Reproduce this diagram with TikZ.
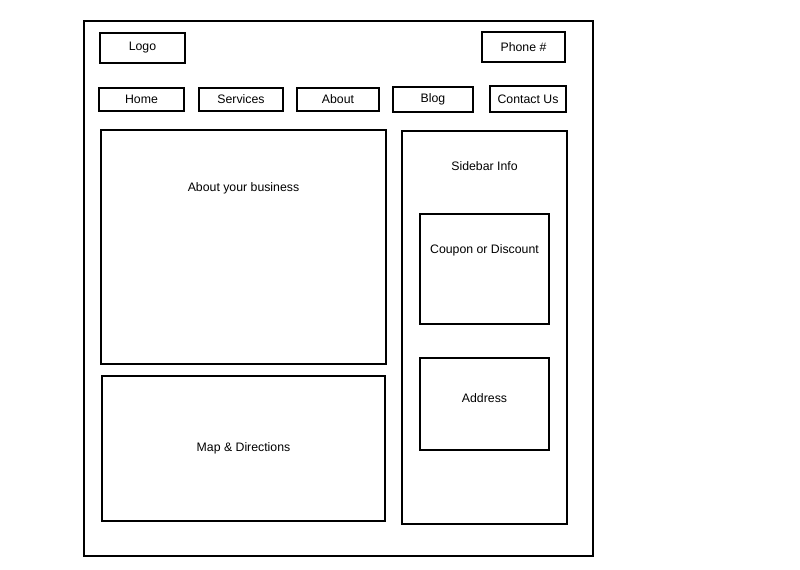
\documentclass[tikz,border=0pt]{standalone}
\usepackage{fontspec}
\setmainfont{Liberation Sans}
\usetikzlibrary{positioning}

\begin{document}
\begin{tikzpicture}
    [
        x=0.02cm, y=-0.02cm, inner sep=0pt,
        box/.style={rectangle, draw=black, line width=1.1pt, fill=none},
        label_text/.style={font=\fontsize{7}{8}\selectfont},
    ]
        \useasboundingbox (0,0) rectangle (800,569) ;
        % page frame
        \node[box, minimum width=10.18cm, minimum height=10.70cm] (page) at (338.5,288.5) {} ;
        % header
        \node[box, label_text, minimum width=1.70cm, minimum height=0.60cm] (logo) at (142.5,48) {Logo} ;
        \node[box, label_text, minimum width=1.66cm, minimum height=0.60cm] (phone) at (523.5,47) {Phone \#} ;
        % menu
        \node[box, label_text, minimum width=1.70cm, minimum height=0.46cm] (home) at (141.5,99.5) {Home} ;
        \node[box, label_text, minimum width=1.68cm, minimum height=0.46cm] (services) at (241,99.5) {Services} ;
        \node[box, label_text, minimum width=1.64cm, minimum height=0.46cm] (about) at (338,99.5) {About} ;
        \node[box, label_text, minimum width=1.60cm, minimum height=0.50cm] (blog) at (433,99.5) {Blog} ;
        \node[box, label_text, minimum width=1.52cm, minimum height=0.52cm] (contact) at (528,99) {Contact Us} ;
        % content
        \node[box, minimum width=5.70cm, minimum height=4.68cm] (business) at (243.5,247) {} ;
        \node[label_text] (business_text) at (243.5,188) {About your business} ;
        \node[box, label_text, minimum width=5.66cm, minimum height=2.90cm] (map) at (243.5,448.5) {Map \& Directions} ;
        % sidebar
        \node[box, minimum width=3.30cm, minimum height=7.86cm] (sidebar) at (484.5,327.5) {} ;
        \node[label_text] (sidebar_text) at (484.5,166) {Sidebar Info} ;
        \node[box, minimum width=2.58cm, minimum height=2.20cm] (coupon) at (484.5,269) {} ;
        \node[label_text] (coupon_text) at (484.5,250) {Coupon or Discount} ;
        \node[box, minimum width=2.58cm, minimum height=1.84cm] (address) at (484.5,404) {} ;
        \node[label_text] (address_text) at (484.5,398) {Address} ;
    \end{tikzpicture}
\end{document}
